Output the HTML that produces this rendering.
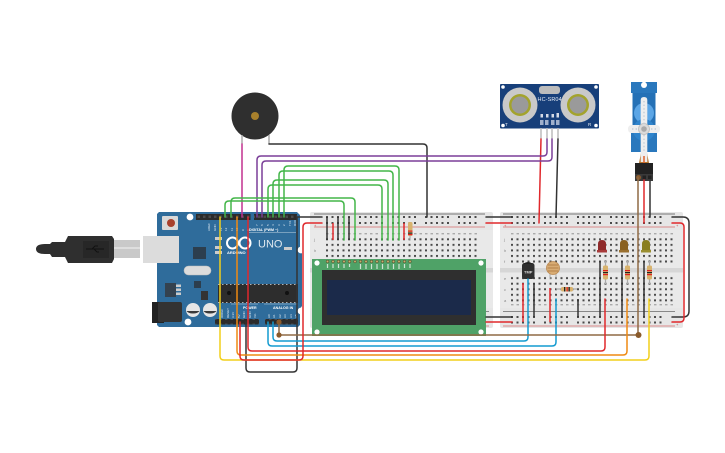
<!DOCTYPE html>
<html><head><meta charset="utf-8"><style>html,body{margin:0;padding:0;background:#fff}svg{display:block;filter:blur(.35px)}text{font-family:"Liberation Sans",sans-serif}</style></head><body>
<svg width="725" height="453" viewBox="0 0 725 453" xmlns="http://www.w3.org/2000/svg">
<defs>
<pattern id="h1" patternUnits="userSpaceOnUse" x="326" y="236.5" width="5.5" height="5.55"><rect x="0" y="1.8" width="2" height="2" fill="#4a4a4a"/></pattern>
<pattern id="h2" patternUnits="userSpaceOnUse" x="511" y="236.5" width="5.5" height="5.55"><rect x="0" y="1.8" width="2" height="2" fill="#4a4a4a"/></pattern>
<pattern id="r1" patternUnits="userSpaceOnUse" x="326" y="215" width="33" height="6"><g fill="#4a4a4a"><rect x="0" y="1" width="2" height="2"/><rect x="5.5" y="1" width="2" height="2"/><rect x="11" y="1" width="2" height="2"/><rect x="16.5" y="1" width="2" height="2"/><rect x="22" y="1" width="2" height="2"/></g></pattern>
<pattern id="r2" patternUnits="userSpaceOnUse" x="511" y="215" width="33" height="6"><g fill="#4a4a4a"><rect x="0" y="1" width="2" height="2"/><rect x="5.5" y="1" width="2" height="2"/><rect x="11" y="1" width="2" height="2"/><rect x="16.5" y="1" width="2" height="2"/><rect x="22" y="1" width="2" height="2"/></g></pattern>
<pattern id="m1" patternUnits="userSpaceOnUse" x="326" y="0" width="5.5" height="453"><rect x="0" y="233" width="2.5" height="1.4" fill="#aaa"/><rect x="0" y="304" width="2.5" height="1.4" fill="#aaa"/></pattern>
<pattern id="m2" patternUnits="userSpaceOnUse" x="511" y="0" width="5.5" height="453"><rect x="0" y="233" width="2.5" height="1.4" fill="#aaa"/><rect x="0" y="304" width="2.5" height="1.4" fill="#aaa"/></pattern>
<pattern id="pin" patternUnits="userSpaceOnUse" x="196" y="214" width="5.5" height="6"><rect width="5.5" height="6" fill="#2b2b2b"/><rect x="1.5" y="1.5" width="2.5" height="2.5" fill="#4a4a4a"/></pattern>
</defs>
<rect width="725" height="453" fill="#fff"/>

<!-- Breadboard 1 -->
<rect x="310" y="212" width="183" height="116" rx="2" fill="#e6e6e6"/>
<rect x="310" y="230" width="183" height="78" fill="#e9e9e9"/>
<rect x="310" y="268" width="183" height="4.5" fill="#d6d6d6"/>
<rect x="314" y="213.5" width="171" height="1" fill="#777"/>
<rect x="314" y="226.5" width="171" height="1" fill="#d98a8a"/>
<rect x="314" y="311" width="175" height="1" fill="#888"/>
<rect x="314" y="325.5" width="175" height="1" fill="#d98a8a"/>
<rect x="326" y="215" width="152" height="11" fill="url(#r1)"/>
<rect x="326" y="236.5" width="154" height="27.7" fill="url(#h1)"/>
<rect x="326" y="275.5" width="154" height="27.7" fill="url(#h1)"/>
<rect x="326" y="232" width="154" height="4" fill="url(#m1)"/>
<g font-size="4" fill="#888"><text x="314" y="218">−</text><text x="314" y="227" fill="#c44">+</text><text x="314" y="241">j</text><text x="314" y="252">h</text><text x="314" y="263">f</text></g>

<!-- Breadboard 2 -->
<rect x="500" y="212" width="183" height="116" rx="2" fill="#e6e6e6"/>
<rect x="500" y="230" width="183" height="78" fill="#e9e9e9"/>
<rect x="500" y="268" width="183" height="4.5" fill="#d6d6d6"/>
<rect x="503" y="213.5" width="172" height="1" fill="#777"/>
<rect x="503" y="226.5" width="172" height="1" fill="#d98a8a"/>
<rect x="503" y="311" width="172" height="1" fill="#888"/>
<rect x="503" y="325.5" width="172" height="1" fill="#d98a8a"/>
<rect x="511" y="215" width="152" height="11" fill="url(#r2)"/>
<rect x="511" y="236.5" width="162" height="27.7" fill="url(#h2)"/>
<rect x="511" y="275.500" width="162" height="27.7" fill="url(#h2)"/>
<rect x="511" y="232" width="162" height="4" fill="url(#m2)"/>
<rect x="511" y="303" width="162" height="4" fill="url(#m2)"/>
<g font-size="4" fill="#888"><text x="504" y="218">−</text><text x="504" y="227" fill="#c44">+</text><text x="504" y="241">j</text><text x="504" y="252">h</text><text x="504" y="263">f</text><text x="504" y="280">e</text><text x="504" y="291">c</text><text x="504" y="302">a</text><text x="676" y="227" fill="#c44">+</text><text x="676" y="326" fill="#c44">+</text></g>
<g fill="#4a4a4a">
<path d="M511 316h2v2h-2zM516.500 316h2v2h-2zM522 316h2v2h-2zM527.500 316h2v2h-2zM533 316h2v2h-2zM544 316h2v2h-2zM549.500 316h2v2h-2zM555 316h2v2h-2zM560.500 316h2v2h-2zM566 316h2v2h-2zM577 316h2v2h-2zM582.500 316h2v2h-2zM588 316h2v2h-2zM593.500 316h2v2h-2zM599 316h2v2h-2zM610 316h2v2h-2zM615.500 316h2v2h-2zM621 316h2v2h-2zM626.500 316h2v2h-2zM632 316h2v2h-2zM643 316h2v2h-2zM648.500 316h2v2h-2zM654 316h2v2h-2zM659.500 316h2v2h-2z"/>
<path d="M511 321.500h2v2h-2zM516.500 321.500h2v2h-2zM522 321.500h2v2h-2zM527.500 321.500h2v2h-2zM533 321.500h2v2h-2zM544 321.500h2v2h-2zM549.500 321.500h2v2h-2zM555 321.500h2v2h-2zM560.500 321.500h2v2h-2zM566 321.500h2v2h-2zM577 321.500h2v2h-2zM582.500 321.500h2v2h-2zM588 321.500h2v2h-2zM593.500 321.500h2v2h-2zM599 321.500h2v2h-2zM610 321.500h2v2h-2zM615.500 321.500h2v2h-2zM621 321.500h2v2h-2zM626.500 321.500h2v2h-2zM632 321.500h2v2h-2zM643 321.500h2v2h-2zM648.500 321.500h2v2h-2zM654 321.500h2v2h-2zM659.500 321.500h2v2h-2z"/>
</g>

<!-- Arduino -->
<path d="M159 212H297L300 215V250L302 253V306L300 309V325L298 327H159L157 325V214Z" fill="#2f6c9b"/>
<circle cx="190" cy="217" r="3.400" fill="#fff"/><circle cx="188" cy="322" r="3.400" fill="#fff"/>
<circle cx="301" cy="250" r="3.400" fill="#fff"/><circle cx="301" cy="311" r="3.400" fill="#fff"/>
<rect x="162" y="216" width="16" height="14" rx="1" fill="#d9d9d9"/><circle cx="171" cy="223" r="4" fill="#a8402c"/>
<rect x="196" y="214" width="54.500" height="6" fill="url(#pin)"/>
<rect x="254" y="214" width="43" height="6" fill="url(#pin)"/>
<rect x="215" y="319" width="44" height="5.500" fill="url(#pin)"/>
<rect x="265" y="319" width="33" height="5.500" fill="url(#pin)"/>
<rect x="143" y="236" width="36" height="27" fill="#dcdcdc"/>
<rect x="114" y="240" width="26" height="18" fill="#c9c9c9"/>
<rect x="114" y="247" width="26" height="2" fill="#dedede"/>
<path d="M45 244H50L52 242H65L68 236H112L114 239V259L112 263H68L65 257H52L50 254H45Q36 254 36 249Q36 244 45 244Z" fill="#2f2f2f"/>
<rect x="83" y="241" width="26" height="17" fill="#272727"/>
<path d="M86 249H104M92 249L95 246H98M94 249L97 252H99" stroke="#111" stroke-width="1" fill="none"/>
<rect x="193" y="247" width="13" height="12" fill="#2c3e4e"/>
<rect x="184" y="266" width="27" height="9" rx="4.500" fill="#dcdcdc" stroke="#bbb" stroke-width=".6"/>
<rect x="194" y="281" width="7" height="7" fill="#2c3e4e"/>
<rect x="165" y="283" width="11" height="14" fill="#34424f"/><rect x="176" y="284.500" width="5" height="2.500" fill="#ccc"/><rect x="176" y="288.500" width="5" height="2.500" fill="#ccc"/><rect x="176" y="292.500" width="5" height="2.500" fill="#ccc"/>
<rect x="201" y="291" width="7" height="9" fill="#333"/>
<rect x="152" y="302" width="12" height="21" fill="#222"/><rect x="158" y="302" width="24" height="20" rx="2" fill="#333"/>
<circle cx="193" cy="310" r="7" fill="#e6e6e6"/><path d="M186.500 311A7 4 0 0 0 199.500 311Z" fill="#3a3a3a"/>
<circle cx="210" cy="310" r="7" fill="#e6e6e6"/><path d="M203.500 311A7 4 0 0 0 216.500 311Z" fill="#3a3a3a"/>
<rect x="218" y="284" width="80" height="19" fill="#2d2d2d"/>
<path d="M218 284.500H298M218 302.500H298" stroke="#ddd" stroke-width=".8" stroke-dasharray="1.500 2.500"/>
<circle cx="229" cy="293" r="2" fill="#111"/><circle cx="287" cy="293" r="2" fill="#111"/>
<rect x="215" y="237" width="7" height="3" fill="#ccc"/><rect x="215" y="246" width="7" height="3" fill="#ccc"/><rect x="215" y="251" width="7" height="3" fill="#ccc"/><rect x="284" y="247" width="8" height="3" fill="#ccc"/>
<circle cx="232.500" cy="243" r="5.500" fill="none" stroke="#fff" stroke-width="2"/><circle cx="245" cy="243" r="5.500" fill="none" stroke="#fff" stroke-width="2"/>
<text x="258" y="247.500" font-size="11" fill="#fff" opacity=".85">UNO</text>
<text x="227" y="254" font-size="4" font-weight="bold" fill="#fff">ARDUINO</text>
<text x="249" y="231" font-size="3.600" font-weight="bold" fill="#fff">DIGITAL (PWM ~)</text>
<text x="243" y="309" font-size="3.600" font-weight="bold" fill="#fff">POWER</text>
<text x="273" y="309" font-size="3.600" font-weight="bold" fill="#fff">ANALOG IN</text>
<path d="M249 232.500H296M231 304H258M264 304H297" stroke="#fff" stroke-width=".5" fill="none" opacity=".7"/>
<g font-size="3" fill="#e4edf4"><text transform="translate(210,231) rotate(-90)">AREF</text><text transform="translate(216,231) rotate(-90)">GND</text><text transform="translate(222,231) rotate(-90)">13</text><text transform="translate(227,231) rotate(-90)">12</text><text transform="translate(233,231) rotate(-90)">11</text><text transform="translate(238,231) rotate(-90)">10</text><text transform="translate(244,231) rotate(-90)">9</text><text transform="translate(249,231) rotate(-90)">8</text><text transform="translate(258,226) rotate(-90)">7</text><text transform="translate(263,226) rotate(-90)">6</text><text transform="translate(269,226) rotate(-90)">5</text><text transform="translate(274,226) rotate(-90)">4</text><text transform="translate(280,226) rotate(-90)">3</text><text transform="translate(285,226) rotate(-90)">2</text><text transform="translate(291,226) rotate(-90)">TX1</text><text transform="translate(296,226) rotate(-90)">RX0</text>
<text transform="translate(270,318) rotate(-90)">A0</text><text transform="translate(275,318) rotate(-90)">A1</text><text transform="translate(281,318) rotate(-90)">A2</text><text transform="translate(286,318) rotate(-90)">A3</text><text transform="translate(292,318) rotate(-90)">A4</text><text transform="translate(297,318) rotate(-90)">A5</text>
<text transform="translate(223,318) rotate(-90)">IOREF</text><text transform="translate(229,318) rotate(-90)">RESET</text><text transform="translate(234,318) rotate(-90)">3.3V</text><text transform="translate(240,318) rotate(-90)">5V</text><text transform="translate(245,318) rotate(-90)">GND</text><text transform="translate(251,318) rotate(-90)">GND</text><text transform="translate(256,318) rotate(-90)">Vin</text></g>

<!-- LCD -->
<rect x="312" y="259" width="174" height="77" fill="#4fa267"/>
<rect x="322" y="270" width="154" height="55" fill="#2f2f2f"/>
<rect x="327" y="280" width="144" height="35" fill="#1b2a4a"/>
<circle cx="317" cy="263" r="2.600" fill="#fff"/><circle cx="481" cy="263" r="2.600" fill="#fff"/><circle cx="317" cy="332" r="2.600" fill="#fff"/><circle cx="481" cy="332" r="2.600" fill="#fff"/>
<g fill="#c9b26b" stroke="#5a5a3a" stroke-width=".6"><circle cx="327.500" cy="261.500" r="1.300"/><circle cx="333" cy="261.500" r="1.300"/><circle cx="338.500" cy="261.500" r="1.300"/><circle cx="344" cy="261.500" r="1.300"/><circle cx="349.500" cy="261.500" r="1.300"/><circle cx="355" cy="261.500" r="1.300"/><circle cx="360.500" cy="261.500" r="1.300"/><circle cx="366" cy="261.500" r="1.300"/><circle cx="371.500" cy="261.500" r="1.300"/><circle cx="377" cy="261.500" r="1.300"/><circle cx="382.500" cy="261.500" r="1.300"/><circle cx="388" cy="261.500" r="1.300"/><circle cx="393.500" cy="261.500" r="1.300"/><circle cx="399" cy="261.500" r="1.300"/><circle cx="404.500" cy="261.500" r="1.300"/><circle cx="410" cy="261.500" r="1.300"/></g>
<path d="M327.500 264V268M333 264V268M338.500 264V268M344 264V268M349.500 264V267M360.500 264V269M366 264V269M371.500 264V269M377 264V269M382.500 264V269M388 264V269M393.500 264V269M399 264V269M404.500 264V268M410 264V268" stroke="#cfe3d4" stroke-width="1.200"/>

<!-- Breadboard 1 local wires -->
<g fill="none" stroke-width="1.500">
<path d="M327 217V240M338 217V240M349 217V240" stroke="#333"/>
<path d="M333 223V240M404 223V240" stroke="#e0282c"/>
</g>
<path d="M410 233V240" stroke="#aaa" stroke-width="1.200"/>
<rect x="408" y="222" width="4.500" height="14" rx="1.500" fill="#d8b36e"/>
<rect x="408" y="230.500" width="4.500" height="1.200" fill="#e02020"/><rect x="408" y="232.500" width="4.500" height="1.200" fill="#222"/><rect x="408" y="234" width="4.500" height="1.200" fill="#e02020"/>

<!-- Breadboard 2 components -->
<g fill="none" stroke-width="1.500">
<path d="M534 283V317M578 299V317M600 261V317M622 261V317M644 261V317" stroke="#333"/>
<path d="M523 283V322M550 288V322" stroke="#e0282c"/>
</g>
<rect x="522" y="263" width="12.500" height="16" rx="2.500" fill="#2f2f2f"/><path d="M524 264Q528 261 532 264" stroke="#222" stroke-width="1" fill="#222"/>
<text x="524" y="273.500" font-size="4" font-weight="bold" fill="#ddd">TMP</text>
<path d="M550 274V279M556 274V279" stroke="#aaa" stroke-width="1"/>
<circle cx="553" cy="268" r="6.500" fill="#d8ac74" stroke="#b9874f" stroke-width=".8"/><path d="M548 265H558M547.500 268H558.500M548 271H558" stroke="#a8703a" stroke-width=".7"/>
<rect x="561" y="287" width="12" height="4.500" rx="1.500" fill="#d8b36e"/><path d="M556 289H561M573 289H577" stroke="#aaa" stroke-width="1.200"/>
<rect x="564" y="287" width="1.300" height="4.500" fill="#222"/><rect x="566.500" y="287" width="1.300" height="4.500" fill="#e02020"/><rect x="568.500" y="287" width="1.300" height="4.500" fill="#222"/>
<g fill="#8f2a2a"><path d="M598 252V244Q598 240 602 240Q606 240 606 244V252Z"/><rect x="597" y="250" width="10" height="2.500" fill="#a83a3a"/></g>
<g fill="#8a6120"><path d="M620 252V244Q620 240 624 240Q628 240 628 244V252Z"/><rect x="619" y="250" width="10" height="2.500" fill="#9a7030"/></g>
<g fill="#8a7f20"><path d="M642 252V244Q642 240 646 240Q650 240 650 244V252Z"/><rect x="641" y="250" width="10" height="2.500" fill="#9a8e30"/></g>
<path d="M605.500 261V284M627.500 261V284M649.500 261V284" stroke="#aaa" stroke-width="1.200"/>
<g fill="#d8b36e"><rect x="603" y="265.500" width="5" height="14" rx="1.500"/><rect x="625" y="265.500" width="5" height="14" rx="1.500"/><rect x="647" y="265.500" width="5" height="14" rx="1.500"/></g>
<g fill="#e02020"><rect x="603" y="270" width="5" height="1.200"/><rect x="625" y="270" width="5" height="1.200"/><rect x="647" y="270" width="5" height="1.200"/><rect x="603" y="274" width="5" height="1.200"/><rect x="625" y="274" width="5" height="1.200"/><rect x="647" y="274" width="5" height="1.200"/></g>
<g fill="#222"><rect x="603" y="272" width="5" height="1.200"/><rect x="625" y="272" width="5" height="1.200"/><rect x="647" y="272" width="5" height="1.200"/></g>

<!-- Buzzer -->
<circle cx="255" cy="116" r="23.500" fill="#2f2f2f"/><circle cx="255" cy="116" r="4" fill="#a8802c"/>
<path d="M242 135V144M269 135V144" stroke="#aaa" stroke-width="1.500"/>

<!-- HC-SR04 -->
<rect x="500" y="84" width="99" height="44.500" rx="1" fill="#173f7a"/>
<circle cx="503" cy="87" r="1.800" fill="#fff"/><circle cx="596" cy="87" r="1.800" fill="#fff"/><circle cx="503" cy="125.500" r="1.800" fill="#fff"/><circle cx="596" cy="125.500" r="1.800" fill="#fff"/>
<circle cx="520" cy="105" r="17.500" fill="#c9c9c9"/><circle cx="520" cy="105" r="11" fill="#a3a32c"/><circle cx="520" cy="105" r="8.500" fill="#9a9a9a"/>
<circle cx="578" cy="105" r="17.500" fill="#c9c9c9"/><circle cx="578" cy="105" r="11" fill="#a3a32c"/><circle cx="578" cy="105" r="8.500" fill="#9a9a9a"/>
<rect x="539" y="86" width="21" height="8" rx="3" fill="#bcbcbc"/>
<text x="537.500" y="101" font-size="5.500" fill="#e6ecf5" letter-spacing=".1">HC-SR04</text>
<g fill="#9fb0cc"><rect x="540" y="120" width="3.500" height="5"/><rect x="545" y="120" width="3.500" height="5"/><rect x="551" y="120" width="3.500" height="5"/><rect x="556" y="120" width="3.500" height="5"/></g>
<g fill="#d5dbe6"><rect x="540.500" y="114" width="2.500" height="3.500"/><rect x="546" y="114" width="2.500" height="3.500"/><rect x="551.500" y="114" width="2.500" height="3.500"/><rect x="556.500" y="113" width="2.500" height="4.500"/></g>
<text x="505" y="126" font-size="4.500" fill="#e6ecf5">T</text><text x="588" y="126" font-size="4.500" fill="#e6ecf5">R</text>
<path d="M541 128V139M547 128V139M552 128V139M558 128V139" stroke="#bbb" stroke-width="1.500"/>

<!-- Servo -->
<rect x="631" y="82" width="26" height="11" fill="#2a78bd"/>
<rect x="632.500" y="93" width="23" height="42" fill="#2571b6"/>
<rect x="631" y="133" width="26" height="19" fill="#2a78bd"/>
<circle cx="644" cy="85" r="3" fill="#fff"/><rect x="642.500" y="82" width="3" height="3" fill="#fff"/>
<circle cx="644" cy="113" r="10" fill="#5ca6e6"/>
<circle cx="644" cy="130" r="11" fill="#2f84cc"/>
<path d="M640.700 162V100Q640.700 97 644 97Q647.300 97 647.300 100V162Z" fill="#eee"/>
<path d="M632 125H656Q660 125 660 129Q660 133 656 133H632Q628 133 628 129Q628 125 632 125Z" fill="#eee"/>
<circle cx="644" cy="129" r="5.500" fill="#dadada" stroke="#bbb" stroke-width=".8"/><circle cx="644" cy="129" r="2.800" fill="#aaa"/>
<path d="M644 101V124M644 135V158M632 129H637M651 129H657" stroke="#c4cdd8" stroke-width="1.400" stroke-dasharray="1.400 2.200"/>
<path d="M639 163L641 153H647L649 163Z" fill="#b5762e"/>
<path d="M640.700 153H647.300V162H640.700Z" fill="#eee"/>
<path d="M644 156V163" stroke="#e0602c" stroke-width="1.500"/>
<rect x="635" y="163" width="18" height="11" fill="#222"/>
<rect x="635" y="174" width="18" height="7" fill="#3a3a3a"/>
<circle cx="638.500" cy="177.500" r="2.500" fill="#8a5a2b"/><rect x="642.500" y="175.500" width="3.500" height="3.500" fill="#222"/><rect x="648" y="175.500" width="3.500" height="3.500" fill="#222"/>

<!-- Wires -->
<g fill="none" stroke-width="1.500" stroke-linecap="round">
<path d="M322 217H297V368Q297 372 293 372H250Q246 372 246 368V322" stroke="#333"/>
<path d="M269 144H423Q427 144 427 148V217" stroke="#333"/>
<path d="M558 139L556 217" stroke="#333"/>
<path d="M650 180V217" stroke="#333"/>
<path d="M672 217H683Q689 217 689 223V311Q689 317 683 317H672" stroke="#333"/>
<path d="M486 217H512M486 317H512" stroke="#333"/>
<path d="M541 139L539 223" stroke="#e0282c"/>
<path d="M644 180V223" stroke="#e0282c"/>
<path d="M672 223H680Q684 223 684 227V318Q684 322 680 322H672" stroke="#e0282c"/>
<path d="M486 223H512M486 322H512" stroke="#e0282c"/>
<path d="M242 144V217" stroke="#c2308f"/>
<g stroke="#7b3f98">
<path d="M257 217V160Q257 156 261 156H543Q547 156 547 152V139"/>
<path d="M262 217V165Q262 161 266 161H548Q552 161 552 157V139"/>
</g>
<g stroke="#43b649">
<path d="M225 217V205Q225 201 229 201H340Q344 201 344 205V240"/>
<path d="M231 217V202Q231 198 235 198H351Q355 198 355 202V240"/>
<path d="M268 217V189Q268 185 272 185H378Q382 185 382 189V240"/>
<path d="M273 217V184Q273 180 277 180H384Q388 180 388 184V240"/>
<path d="M279 217V175Q279 171 283 171H389Q393 171 393 175V240"/>
<path d="M284 217V170Q284 166 288 166H395Q399 166 399 170V240"/>
</g>
<path d="M273 322V337Q273 341 277 341H524Q528 341 528 337V279" stroke="#149bd0"/>
<path d="M268 322V342Q268 346 272 346H552Q556 346 556 342V299" stroke="#149bd0"/>
<path d="M279 322V335H638V177" stroke="#8f6a45"/>
<path d="M248 217V347Q248 351 252 351H601Q605 351 605 347V299" stroke="#e0282c"/>
<path d="M237 217V351Q237 355 241 355H623Q627 355 627 351V299" stroke="#ef8a12"/>
<path d="M220 217V356Q220 360 224 360H645Q649 360 649 356V299" stroke="#f2cf1a"/>
<path d="M240 322V356Q240 360 244 360H299Q303 360 303 356V227Q303 223 307 223H322" stroke="#e0282c"/>
</g>
<circle cx="279" cy="322" r="2.600" fill="#8a5a2b"/><circle cx="279" cy="335" r="2.600" fill="#8a5a2b"/><circle cx="638.500" cy="335" r="3" fill="#8a5a2b"/>
</svg>
</body></html>
